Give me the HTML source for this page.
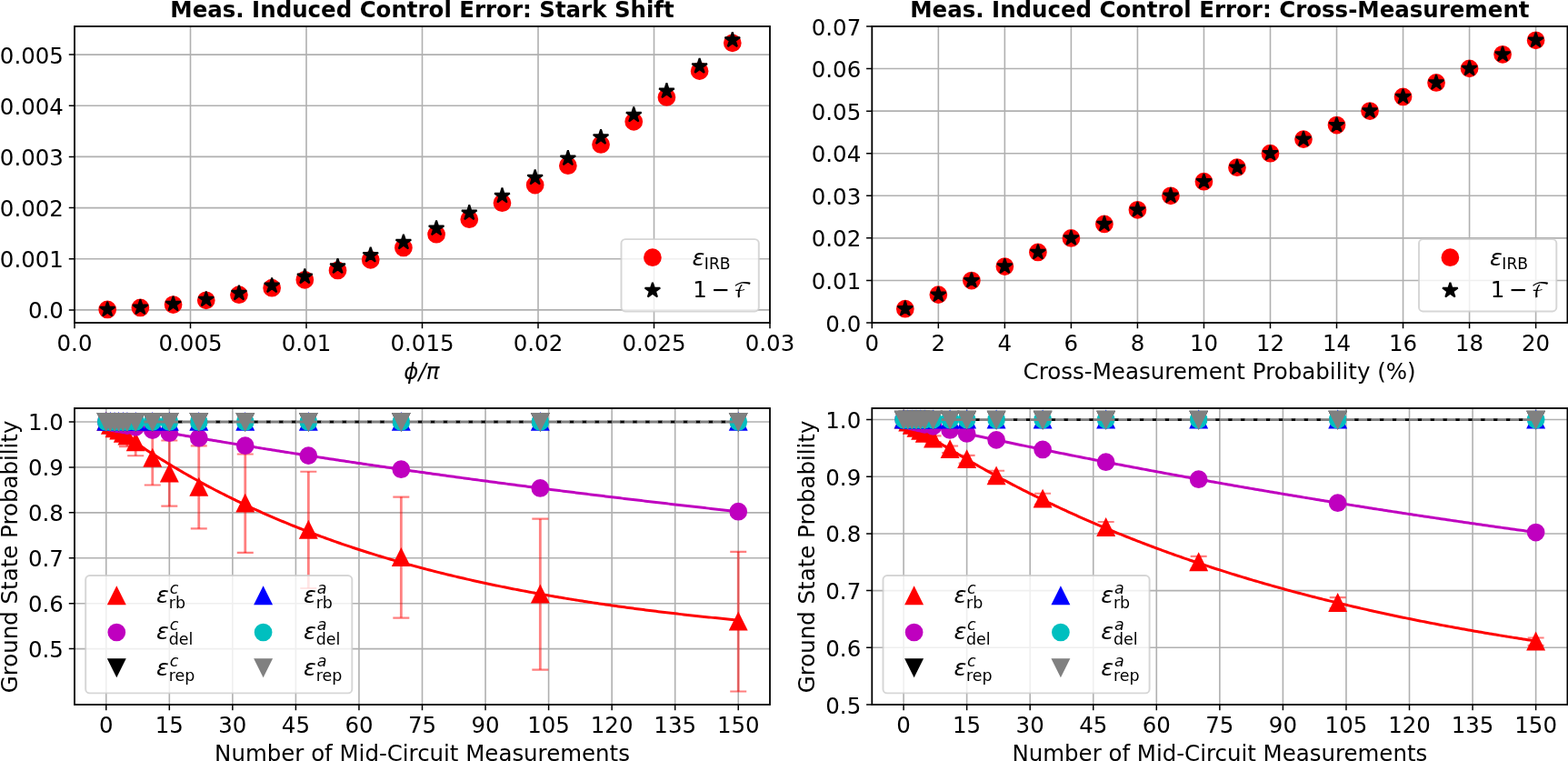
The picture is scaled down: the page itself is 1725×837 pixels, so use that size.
<!DOCTYPE html>
<html lang="en"><head><meta charset="utf-8"><title>Measurement Induced Control Error</title>
<style>html,body{margin:0;padding:0;background:#fff}body{width:1725px;height:837px;overflow:hidden}svg{display:block}</style>
</head><body>
<svg width="1725" height="837" viewBox="0 0 1725 837" font-family="'DejaVu Sans','Liberation Sans',sans-serif" font-size="24.47" fill="#000">
<rect width="1725" height="837" fill="#fff"/>
<defs>
<circle id="mo" r="8.9" stroke-width="1.94"/>
<polygon id="mu" points="0,-8.9 -8.9,8.9 8.9,8.9" stroke-width="1.94" stroke-linejoin="miter"/>
<polygon id="md" points="0,8.9 -8.9,-8.9 8.9,-8.9" stroke-width="1.94" stroke-linejoin="miter"/>
<polygon id="ms" points="0,-8.75 -1.96,-2.7 -8.32,-2.7 -3.18,1.03 -5.14,7.08 0,3.34 5.14,7.08 3.18,1.03 8.32,-2.7 1.96,-2.7" stroke-width="1.94" stroke-linejoin="bevel"/>
</defs>
<clipPath id="clipa1"><rect x="82" y="29" width="765" height="326"/></clipPath>
<g clip-path="url(#clipa1)">
<path d="M82 29V355M209.5 29V355M337 29V355M464.5 29V355M592 29V355M719.5 29V355M847 29V355M82 340.9H847M82 284.74H847M82 228.58H847M82 172.42H847M82 116.26H847M82 60.1H847" stroke="#b0b0b0" stroke-width="1.6" fill="none"/>
<use href="#mo" x="118.19" y="340.43" fill="#f00" stroke="#f00"/><use href="#mo" x="154.38" y="338.41" fill="#f00" stroke="#f00"/><use href="#mo" x="190.57" y="335.04" fill="#f00" stroke="#f00"/><use href="#mo" x="226.76" y="330.3" fill="#f00" stroke="#f00"/><use href="#mo" x="262.95" y="324.19" fill="#f00" stroke="#f00"/><use href="#mo" x="299.14" y="316.69" fill="#f00" stroke="#f00"/><use href="#mo" x="335.33" y="307.78" fill="#f00" stroke="#f00"/><use href="#mo" x="371.52" y="297.43" fill="#f00" stroke="#f00"/><use href="#mo" x="407.71" y="285.81" fill="#f00" stroke="#f00"/><use href="#mo" x="443.9" y="272.5" fill="#f00" stroke="#f00"/><use href="#mo" x="480.09" y="257.66" fill="#f00" stroke="#f00"/><use href="#mo" x="516.28" y="241.25" fill="#f00" stroke="#f00"/><use href="#mo" x="552.47" y="223.23" fill="#f00" stroke="#f00"/><use href="#mo" x="588.66" y="203.54" fill="#f00" stroke="#f00"/><use href="#mo" x="624.85" y="182.15" fill="#f00" stroke="#f00"/><use href="#mo" x="661.04" y="158.99" fill="#f00" stroke="#f00"/><use href="#mo" x="697.23" y="133.81" fill="#f00" stroke="#f00"/><use href="#mo" x="733.42" y="106.95" fill="#f00" stroke="#f00"/><use href="#mo" x="769.61" y="78.14" fill="#f00" stroke="#f00"/><use href="#mo" x="805.8" y="47.32" fill="#f00" stroke="#f00"/>
<use href="#ms" x="118.19" y="340.43" fill="#000" stroke="#000"/><use href="#ms" x="154.38" y="338.11" fill="#000" stroke="#000"/><use href="#ms" x="190.57" y="334.44" fill="#000" stroke="#000"/><use href="#ms" x="226.76" y="329.3" fill="#000" stroke="#000"/><use href="#ms" x="262.95" y="322.49" fill="#000" stroke="#000"/><use href="#ms" x="299.14" y="314.19" fill="#000" stroke="#000"/><use href="#ms" x="335.33" y="304.28" fill="#000" stroke="#000"/><use href="#ms" x="371.52" y="293.03" fill="#000" stroke="#000"/><use href="#ms" x="407.71" y="280.61" fill="#000" stroke="#000"/><use href="#ms" x="443.9" y="266.5" fill="#000" stroke="#000"/><use href="#ms" x="480.09" y="251.26" fill="#000" stroke="#000"/><use href="#ms" x="516.28" y="234.15" fill="#000" stroke="#000"/><use href="#ms" x="552.47" y="215.38" fill="#000" stroke="#000"/><use href="#ms" x="588.66" y="195.39" fill="#000" stroke="#000"/><use href="#ms" x="624.85" y="174.15" fill="#000" stroke="#000"/><use href="#ms" x="661.04" y="150.99" fill="#000" stroke="#000"/><use href="#ms" x="697.23" y="126.41" fill="#000" stroke="#000"/><use href="#ms" x="733.42" y="100.15" fill="#000" stroke="#000"/><use href="#ms" x="769.61" y="72.84" fill="#000" stroke="#000"/><use href="#ms" x="805.8" y="44.02" fill="#000" stroke="#000"/>
</g>
<path d="M82 355v6.2M209.5 355v6.2M337 355v6.2M464.5 355v6.2M592 355v6.2M719.5 355v6.2M847 355v6.2M82 340.9h-6.2M82 284.74h-6.2M82 228.58h-6.2M82 172.42h-6.2M82 116.26h-6.2M82 60.1h-6.2" stroke="#000" stroke-width="1.5" fill="none"/>
<rect x="82" y="29" width="765" height="326" fill="none" stroke="#000" stroke-width="1.8" stroke-linejoin="miter"/>
<text transform="translate(82 385.8) scale(1 1.035)" text-anchor="middle">0.0</text>
<text transform="translate(209.5 385.8) scale(1 1.035)" text-anchor="middle">0.005</text>
<text transform="translate(337 385.8) scale(1 1.035)" text-anchor="middle">0.01</text>
<text transform="translate(464.5 385.8) scale(1 1.035)" text-anchor="middle">0.015</text>
<text transform="translate(592 385.8) scale(1 1.035)" text-anchor="middle">0.02</text>
<text transform="translate(719.5 385.8) scale(1 1.035)" text-anchor="middle">0.025</text>
<text transform="translate(847 385.8) scale(1 1.035)" text-anchor="middle">0.03</text>
<text transform="translate(69.9 350.4) scale(1 1.035)" text-anchor="end">0.0</text>
<text transform="translate(69.9 294.24) scale(1 1.035)" text-anchor="end">0.001</text>
<text transform="translate(69.9 238.08) scale(1 1.035)" text-anchor="end">0.002</text>
<text transform="translate(69.9 181.92) scale(1 1.035)" text-anchor="end">0.003</text>
<text transform="translate(69.9 125.76) scale(1 1.035)" text-anchor="end">0.004</text>
<text transform="translate(69.9 69.6) scale(1 1.035)" text-anchor="end">0.005</text>
<rect x="683.5" y="263.1" width="151.3" height="79.4" rx="4.5" ry="4.5" fill="#fff" fill-opacity="0.8" stroke="#ccc" stroke-opacity="0.8" stroke-width="1.94"/>
<use href="#mo" x="717.9" y="283.2" fill="#f00" stroke="#f00"/>
<use href="#ms" x="717.9" y="319.5" fill="#000" stroke="#000"/>
<text transform="translate(761.6 291.5) scale(1 1.0)" font-size="25.5" font-style="italic">ε</text>
<text transform="translate(774.83 296) scale(1 1.0)" font-size="17.13">IRB</text>
<text transform="translate(762.2 326.7) scale(1 1.035)">1</text>
<text transform="translate(782.2 326.7) scale(1 1.035)">−</text>
<text transform="translate(806.8 326.7) scale(1 1.0)" font-size="22.3" font-family="'DejaVu Math TeX Gyre','DejaVu Sans',sans-serif">ℱ</text>
<text transform="translate(464.5 18.7) scale(1 1.035)" text-anchor="middle" font-weight="bold">Meas. Induced Control Error: Stark Shift</text>
<text transform="translate(463.9 416.7) scale(1 1.035)" text-anchor="middle" font-style="italic">ϕ/π</text>
<clipPath id="clipa2"><rect x="959.3" y="29" width="765.1" height="326"/></clipPath>
<g clip-path="url(#clipa2)">
<path d="M959.3 29V355M1032.33 29V355M1105.36 29V355M1178.39 29V355M1251.42 29V355M1324.45 29V355M1397.48 29V355M1470.51 29V355M1543.54 29V355M1616.57 29V355M1689.6 29V355M959.3 355H1724.4M959.3 308.43H1724.4M959.3 261.86H1724.4M959.3 215.29H1724.4M959.3 168.71H1724.4M959.3 122.14H1724.4M959.3 75.57H1724.4M959.3 29H1724.4" stroke="#b0b0b0" stroke-width="1.6" fill="none"/>
<use href="#mo" x="995.81" y="339.65" fill="#f00" stroke="#f00"/><use href="#mo" x="1032.33" y="324.11" fill="#f00" stroke="#f00"/><use href="#mo" x="1068.85" y="308.56" fill="#f00" stroke="#f00"/><use href="#mo" x="1105.36" y="293.02" fill="#f00" stroke="#f00"/><use href="#mo" x="1141.88" y="277.47" fill="#f00" stroke="#f00"/><use href="#mo" x="1178.39" y="261.93" fill="#f00" stroke="#f00"/><use href="#mo" x="1214.9" y="246.38" fill="#f00" stroke="#f00"/><use href="#mo" x="1251.42" y="230.84" fill="#f00" stroke="#f00"/><use href="#mo" x="1287.93" y="215.29" fill="#f00" stroke="#f00"/><use href="#mo" x="1324.45" y="199.74" fill="#f00" stroke="#f00"/><use href="#mo" x="1360.96" y="184.2" fill="#f00" stroke="#f00"/><use href="#mo" x="1397.48" y="168.65" fill="#f00" stroke="#f00"/><use href="#mo" x="1433.99" y="153.11" fill="#f00" stroke="#f00"/><use href="#mo" x="1470.51" y="137.56" fill="#f00" stroke="#f00"/><use href="#mo" x="1507.03" y="122.02" fill="#f00" stroke="#f00"/><use href="#mo" x="1543.54" y="106.47" fill="#f00" stroke="#f00"/><use href="#mo" x="1580.05" y="90.93" fill="#f00" stroke="#f00"/><use href="#mo" x="1616.57" y="75.38" fill="#f00" stroke="#f00"/><use href="#mo" x="1653.09" y="59.83" fill="#f00" stroke="#f00"/><use href="#mo" x="1689.6" y="44.29" fill="#f00" stroke="#f00"/>
<use href="#ms" x="995.81" y="339.65" fill="#000" stroke="#000"/><use href="#ms" x="1032.33" y="324.11" fill="#000" stroke="#000"/><use href="#ms" x="1068.85" y="308.56" fill="#000" stroke="#000"/><use href="#ms" x="1105.36" y="293.02" fill="#000" stroke="#000"/><use href="#ms" x="1141.88" y="277.47" fill="#000" stroke="#000"/><use href="#ms" x="1178.39" y="261.93" fill="#000" stroke="#000"/><use href="#ms" x="1214.9" y="246.38" fill="#000" stroke="#000"/><use href="#ms" x="1251.42" y="230.84" fill="#000" stroke="#000"/><use href="#ms" x="1287.93" y="215.29" fill="#000" stroke="#000"/><use href="#ms" x="1324.45" y="199.74" fill="#000" stroke="#000"/><use href="#ms" x="1360.96" y="184.2" fill="#000" stroke="#000"/><use href="#ms" x="1397.48" y="168.65" fill="#000" stroke="#000"/><use href="#ms" x="1433.99" y="153.11" fill="#000" stroke="#000"/><use href="#ms" x="1470.51" y="137.56" fill="#000" stroke="#000"/><use href="#ms" x="1507.03" y="122.02" fill="#000" stroke="#000"/><use href="#ms" x="1543.54" y="106.47" fill="#000" stroke="#000"/><use href="#ms" x="1580.05" y="90.93" fill="#000" stroke="#000"/><use href="#ms" x="1616.57" y="75.38" fill="#000" stroke="#000"/><use href="#ms" x="1653.09" y="59.83" fill="#000" stroke="#000"/><use href="#ms" x="1689.6" y="44.29" fill="#000" stroke="#000"/>
</g>
<path d="M959.3 355v6.2M1032.33 355v6.2M1105.36 355v6.2M1178.39 355v6.2M1251.42 355v6.2M1324.45 355v6.2M1397.48 355v6.2M1470.51 355v6.2M1543.54 355v6.2M1616.57 355v6.2M1689.6 355v6.2M959.3 355h-6.2M959.3 308.43h-6.2M959.3 261.86h-6.2M959.3 215.29h-6.2M959.3 168.71h-6.2M959.3 122.14h-6.2M959.3 75.57h-6.2M959.3 29h-6.2" stroke="#000" stroke-width="1.5" fill="none"/>
<rect x="959.3" y="29" width="765.1" height="326" fill="none" stroke="#000" stroke-width="1.8" stroke-linejoin="miter"/>
<text transform="translate(959.3 385.8) scale(1 1.035)" text-anchor="middle">0</text>
<text transform="translate(1032.33 385.8) scale(1 1.035)" text-anchor="middle">2</text>
<text transform="translate(1105.36 385.8) scale(1 1.035)" text-anchor="middle">4</text>
<text transform="translate(1178.39 385.8) scale(1 1.035)" text-anchor="middle">6</text>
<text transform="translate(1251.42 385.8) scale(1 1.035)" text-anchor="middle">8</text>
<text transform="translate(1324.45 385.8) scale(1 1.035)" text-anchor="middle">10</text>
<text transform="translate(1397.48 385.8) scale(1 1.035)" text-anchor="middle">12</text>
<text transform="translate(1470.51 385.8) scale(1 1.035)" text-anchor="middle">14</text>
<text transform="translate(1543.54 385.8) scale(1 1.035)" text-anchor="middle">16</text>
<text transform="translate(1616.57 385.8) scale(1 1.035)" text-anchor="middle">18</text>
<text transform="translate(1689.6 385.8) scale(1 1.035)" text-anchor="middle">20</text>
<text transform="translate(947.2 364.5) scale(1 1.035)" text-anchor="end">0.0</text>
<text transform="translate(947.2 317.93) scale(1 1.035)" text-anchor="end">0.01</text>
<text transform="translate(947.2 271.36) scale(1 1.035)" text-anchor="end">0.02</text>
<text transform="translate(947.2 224.79) scale(1 1.035)" text-anchor="end">0.03</text>
<text transform="translate(947.2 178.21) scale(1 1.035)" text-anchor="end">0.04</text>
<text transform="translate(947.2 131.64) scale(1 1.035)" text-anchor="end">0.05</text>
<text transform="translate(947.2 85.07) scale(1 1.035)" text-anchor="end">0.06</text>
<text transform="translate(947.2 38.5) scale(1 1.035)" text-anchor="end">0.07</text>
<rect x="1561" y="263.1" width="151.3" height="79.4" rx="4.5" ry="4.5" fill="#fff" fill-opacity="0.8" stroke="#ccc" stroke-opacity="0.8" stroke-width="1.94"/>
<use href="#mo" x="1595.4" y="283.2" fill="#f00" stroke="#f00"/>
<use href="#ms" x="1595.4" y="319.5" fill="#000" stroke="#000"/>
<text transform="translate(1639.1 291.5) scale(1 1.0)" font-size="25.5" font-style="italic">ε</text>
<text transform="translate(1652.33 296) scale(1 1.0)" font-size="17.13">IRB</text>
<text transform="translate(1639.7 326.7) scale(1 1.035)">1</text>
<text transform="translate(1659.7 326.7) scale(1 1.035)">−</text>
<text transform="translate(1684.3 326.7) scale(1 1.0)" font-size="22.3" font-family="'DejaVu Math TeX Gyre','DejaVu Sans',sans-serif">ℱ</text>
<text transform="translate(1341.9 18.7) scale(1 1.035)" text-anchor="middle" font-weight="bold">Meas. Induced Control Error: Cross-Measurement</text>
<text transform="translate(1341.6 416.7) scale(1 1.035)" text-anchor="middle" font-size="24.53">Cross-Measurement Probability (%)</text>
<clipPath id="clipa3"><rect x="82" y="449" width="765" height="326"/></clipPath>
<g clip-path="url(#clipa3)">
<path d="M116.77 449V775M186.32 449V775M255.86 449V775M325.41 449V775M394.95 449V775M464.5 449V775M534.05 449V775M603.59 449V775M673.14 449V775M742.68 449V775M812.23 449V775M82 713.62H847M82 663.69H847M82 613.76H847M82 563.84H847M82 513.91H847M82 463.98H847" stroke="#b0b0b0" stroke-width="1.6" fill="none"/>
<path d="M116.77 463.98L119.09 465.7L121.41 467.4L123.72 469.09L126.04 470.77L128.36 472.44L130.68 474.1L133 475.75L135.32 477.38L137.63 479L139.95 480.62L142.27 482.22L144.59 483.81L146.91 485.39L149.22 486.96L151.54 488.51L153.86 490.06L156.18 491.6L158.5 493.12L160.82 494.64L163.13 496.14L165.45 497.64L167.77 499.12L170.09 500.6L172.41 502.06L174.72 503.52L177.04 504.96L179.36 506.39L181.68 507.82L184 509.23L186.32 510.64L188.63 512.03L190.95 513.42L193.27 514.79L195.59 516.16L197.91 517.52L200.23 518.86L202.54 520.2L204.86 521.53L207.18 522.85L209.5 524.16L211.82 525.47L214.13 526.76L216.45 528.04L218.77 529.32L221.09 530.59L223.41 531.84L225.73 533.09L228.04 534.33L230.36 535.57L232.68 536.79L235 538L237.32 539.21L239.63 540.41L241.95 541.6L244.27 542.78L246.59 543.96L248.91 545.12L251.23 546.28L253.54 547.43L255.86 548.57L258.18 549.71L260.5 550.83L262.82 551.95L265.13 553.06L267.45 554.17L269.77 555.26L272.09 556.35L274.41 557.43L276.73 558.51L279.04 559.57L281.36 560.63L283.68 561.68L286 562.73L288.32 563.76L290.63 564.79L292.95 565.82L295.27 566.83L297.59 567.84L299.91 568.84L302.23 569.84L304.54 570.83L306.86 571.81L309.18 572.78L311.5 573.75L313.82 574.71L316.14 575.67L318.45 576.61L320.77 577.56L323.09 578.49L325.41 579.42L327.73 580.34L330.04 581.26L332.36 582.17L334.68 583.07L337 583.97L339.32 584.86L341.64 585.74L343.95 586.62L346.27 587.5L348.59 588.36L350.91 589.22L353.23 590.08L355.54 590.93L357.86 591.77L360.18 592.61L362.5 593.44L364.82 594.27L367.14 595.09L369.45 595.9L371.77 596.71L374.09 597.51L376.41 598.31L378.73 599.1L381.04 599.89L383.36 600.67L385.68 601.45L388 602.22L390.32 602.99L392.64 603.75L394.95 604.5L397.27 605.25L399.59 606L401.91 606.74L404.23 607.47L406.54 608.2L408.86 608.92L411.18 609.64L413.5 610.36L415.82 611.07L418.14 611.77L420.45 612.47L422.77 613.17L425.09 613.86L427.41 614.54L429.73 615.23L432.05 615.9L434.36 616.57L436.68 617.24L439 617.9L441.32 618.56L443.64 619.21L445.95 619.86L448.27 620.51L450.59 621.15L452.91 621.78L455.23 622.41L457.55 623.04L459.86 623.66L462.18 624.28L464.5 624.9L466.82 625.51L469.14 626.11L471.45 626.71L473.77 627.31L476.09 627.9L478.41 628.49L480.73 629.08L483.05 629.66L485.36 630.24L487.68 630.81L490 631.38L492.32 631.94L494.64 632.5L496.95 633.06L499.27 633.62L501.59 634.16L503.91 634.71L506.23 635.25L508.55 635.79L510.86 636.33L513.18 636.86L515.5 637.39L517.82 637.91L520.14 638.43L522.46 638.95L524.77 639.46L527.09 639.97L529.41 640.48L531.73 640.98L534.05 641.48L536.36 641.97L538.68 642.47L541 642.95L543.32 643.44L545.64 643.92L547.96 644.4L550.27 644.88L552.59 645.35L554.91 645.82L557.23 646.29L559.55 646.75L561.86 647.21L564.18 647.66L566.5 648.12L568.82 648.57L571.14 649.01L573.46 649.46L575.77 649.9L578.09 650.34L580.41 650.77L582.73 651.2L585.05 651.63L587.36 652.06L589.68 652.48L592 652.9L594.32 653.32L596.64 653.73L598.96 654.15L601.27 654.55L603.59 654.96L605.91 655.36L608.23 655.76L610.55 656.16L612.86 656.56L615.18 656.95L617.5 657.34L619.82 657.73L622.14 658.11L624.46 658.49L626.77 658.87L629.09 659.25L631.41 659.62L633.73 659.99L636.05 660.36L638.37 660.73L640.68 661.09L643 661.45L645.32 661.81L647.64 662.16L649.96 662.52L652.27 662.87L654.59 663.22L656.91 663.56L659.23 663.91L661.55 664.25L663.87 664.59L666.18 664.93L668.5 665.26L670.82 665.59L673.14 665.92L675.46 666.25L677.77 666.58L680.09 666.9L682.41 667.22L684.73 667.54L687.05 667.86L689.37 668.17L691.68 668.48L694 668.79L696.32 669.1L698.64 669.41L700.96 669.71L703.27 670.01L705.59 670.31L707.91 670.61L710.23 670.91L712.55 671.2L714.87 671.49L717.18 671.78L719.5 672.07L721.82 672.35L724.14 672.64L726.46 672.92L728.77 673.2L731.09 673.48L733.41 673.75L735.73 674.03L738.05 674.3L740.37 674.57L742.68 674.84L745 675.1L747.32 675.37L749.64 675.63L751.96 675.89L754.27 676.15L756.59 676.41L758.91 676.67L761.23 676.92L763.55 677.17L765.87 677.42L768.18 677.67L770.5 677.92L772.82 678.16L775.14 678.41L777.46 678.65L779.78 678.89L782.09 679.13L784.41 679.37L786.73 679.6L789.05 679.83L791.37 680.07L793.68 680.3L796 680.53L798.32 680.75L800.64 680.98L802.96 681.2L805.28 681.43L807.59 681.65L809.91 681.87L812.23 682.09" stroke="#f00" stroke-width="3.0" fill="none" stroke-linecap="square"/>
<path d="M139.95 491.09V468.32M149.22 501.28V471.52M167.77 533.48V474.07M186.32 556.65V484.55M218.77 581.41V490.34M269.77 607.92V499.48M339.32 647.07V518.75M441.32 679.62V546.61M594.32 736.59V570.63M812.23 760.45V606.87" stroke="#f00" stroke-opacity="0.5" stroke-width="2.8" fill="none"/>
<path d="M130.95 491.09h18M130.95 468.32h18M140.22 501.28h18M140.22 471.52h18M158.77 533.48h18M158.77 474.07h18M177.32 556.65h18M177.32 484.55h18M209.77 581.41h18M209.77 490.34h18M260.77 607.92h18M260.77 499.48h18M330.32 647.07h18M330.32 518.75h18M432.32 679.62h18M432.32 546.61h18M585.32 736.59h18M585.32 570.63h18M803.23 760.45h18M803.23 606.87h18" stroke="#f00" stroke-opacity="0.5" stroke-width="2.1" fill="none"/>
<use href="#mu" x="116.77" y="463.98" fill="#f00" stroke="#f00"/><use href="#mu" x="121.41" y="467.77" fill="#f00" stroke="#f00"/><use href="#mu" x="126.04" y="471.32" fill="#f00" stroke="#f00"/><use href="#mu" x="130.68" y="473.72" fill="#f00" stroke="#f00"/><use href="#mu" x="135.32" y="476.81" fill="#f00" stroke="#f00"/><use href="#mu" x="139.95" y="479.71" fill="#f00" stroke="#f00"/><use href="#mu" x="149.22" y="486.4" fill="#f00" stroke="#f00"/><use href="#mu" x="167.77" y="503.77" fill="#f00" stroke="#f00"/><use href="#mu" x="186.32" y="520.6" fill="#f00" stroke="#f00"/><use href="#mu" x="218.77" y="535.88" fill="#f00" stroke="#f00"/><use href="#mu" x="269.77" y="553.7" fill="#f00" stroke="#f00"/><use href="#mu" x="339.32" y="582.91" fill="#f00" stroke="#f00"/><use href="#mu" x="441.32" y="613.11" fill="#f00" stroke="#f00"/><use href="#mu" x="594.32" y="653.61" fill="#f00" stroke="#f00"/><use href="#mu" x="812.23" y="683.66" fill="#f00" stroke="#f00"/>
<path d="M116.77 463.98L119.09 464.4L121.41 464.82L123.72 465.23L126.04 465.65L128.36 466.07L130.68 466.48L133 466.89L135.32 467.31L137.63 467.72L139.95 468.13L142.27 468.55L144.59 468.96L146.91 469.37L149.22 469.78L151.54 470.18L153.86 470.59L156.18 471L158.5 471.41L160.82 471.81L163.13 472.22L165.45 472.62L167.77 473.03L170.09 473.43L172.41 473.83L174.72 474.23L177.04 474.64L179.36 475.04L181.68 475.44L184 475.84L186.32 476.23L188.63 476.63L190.95 477.03L193.27 477.43L195.59 477.82L197.91 478.22L200.23 478.61L202.54 479.01L204.86 479.4L207.18 479.79L209.5 480.18L211.82 480.58L214.13 480.97L216.45 481.36L218.77 481.75L221.09 482.13L223.41 482.52L225.73 482.91L228.04 483.3L230.36 483.68L232.68 484.07L235 484.45L237.32 484.84L239.63 485.22L241.95 485.6L244.27 485.99L246.59 486.37L248.91 486.75L251.23 487.13L253.54 487.51L255.86 487.89L258.18 488.27L260.5 488.64L262.82 489.02L265.13 489.4L267.45 489.77L269.77 490.15L272.09 490.52L274.41 490.9L276.73 491.27L279.04 491.64L281.36 492.02L283.68 492.39L286 492.76L288.32 493.13L290.63 493.5L292.95 493.87L295.27 494.24L297.59 494.6L299.91 494.97L302.23 495.34L304.54 495.7L306.86 496.07L309.18 496.43L311.5 496.8L313.82 497.16L316.14 497.52L318.45 497.89L320.77 498.25L323.09 498.61L325.41 498.97L327.73 499.33L330.04 499.69L332.36 500.05L334.68 500.4L337 500.76L339.32 501.12L341.64 501.48L343.95 501.83L346.27 502.19L348.59 502.54L350.91 502.89L353.23 503.25L355.54 503.6L357.86 503.95L360.18 504.3L362.5 504.65L364.82 505.01L367.14 505.35L369.45 505.7L371.77 506.05L374.09 506.4L376.41 506.75L378.73 507.09L381.04 507.44L383.36 507.79L385.68 508.13L388 508.48L390.32 508.82L392.64 509.16L394.95 509.51L397.27 509.85L399.59 510.19L401.91 510.53L404.23 510.87L406.54 511.21L408.86 511.55L411.18 511.89L413.5 512.23L415.82 512.57L418.14 512.9L420.45 513.24L422.77 513.57L425.09 513.91L427.41 514.24L429.73 514.58L432.05 514.91L434.36 515.25L436.68 515.58L439 515.91L441.32 516.24L443.64 516.57L445.95 516.9L448.27 517.23L450.59 517.56L452.91 517.89L455.23 518.22L457.55 518.55L459.86 518.87L462.18 519.2L464.5 519.53L466.82 519.85L469.14 520.18L471.45 520.5L473.77 520.82L476.09 521.15L478.41 521.47L480.73 521.79L483.05 522.11L485.36 522.44L487.68 522.76L490 523.08L492.32 523.39L494.64 523.71L496.95 524.03L499.27 524.35L501.59 524.67L503.91 524.98L506.23 525.3L508.55 525.62L510.86 525.93L513.18 526.25L515.5 526.56L517.82 526.87L520.14 527.19L522.46 527.5L524.77 527.81L527.09 528.12L529.41 528.43L531.73 528.74L534.05 529.05L536.36 529.36L538.68 529.67L541 529.98L543.32 530.29L545.64 530.6L547.96 530.9L550.27 531.21L552.59 531.51L554.91 531.82L557.23 532.13L559.55 532.43L561.86 532.73L564.18 533.04L566.5 533.34L568.82 533.64L571.14 533.94L573.46 534.24L575.77 534.54L578.09 534.85L580.41 535.14L582.73 535.44L585.05 535.74L587.36 536.04L589.68 536.34L592 536.64L594.32 536.93L596.64 537.23L598.96 537.52L601.27 537.82L603.59 538.11L605.91 538.41L608.23 538.7L610.55 539L612.86 539.29L615.18 539.58L617.5 539.87L619.82 540.16L622.14 540.45L624.46 540.74L626.77 541.03L629.09 541.32L631.41 541.61L633.73 541.9L636.05 542.19L638.37 542.48L640.68 542.76L643 543.05L645.32 543.34L647.64 543.62L649.96 543.91L652.27 544.19L654.59 544.47L656.91 544.76L659.23 545.04L661.55 545.32L663.87 545.61L666.18 545.89L668.5 546.17L670.82 546.45L673.14 546.73L675.46 547.01L677.77 547.29L680.09 547.57L682.41 547.85L684.73 548.12L687.05 548.4L689.37 548.68L691.68 548.96L694 549.23L696.32 549.51L698.64 549.78L700.96 550.06L703.27 550.33L705.59 550.6L707.91 550.88L710.23 551.15L712.55 551.42L714.87 551.69L717.18 551.97L719.5 552.24L721.82 552.51L724.14 552.78L726.46 553.05L728.77 553.32L731.09 553.59L733.41 553.85L735.73 554.12L738.05 554.39L740.37 554.66L742.68 554.92L745 555.19L747.32 555.45L749.64 555.72L751.96 555.98L754.27 556.25L756.59 556.51L758.91 556.78L761.23 557.04L763.55 557.3L765.87 557.56L768.18 557.82L770.5 558.09L772.82 558.35L775.14 558.61L777.46 558.87L779.78 559.13L782.09 559.39L784.41 559.64L786.73 559.9L789.05 560.16L791.37 560.42L793.68 560.67L796 560.93L798.32 561.19L800.64 561.44L802.96 561.7L805.28 561.95L807.59 562.21L809.91 562.46L812.23 562.71" stroke="#bf00bf" stroke-width="3.0" fill="none" stroke-linecap="square"/>
<use href="#mo" x="116.77" y="463.98" fill="#bf00bf" stroke="#bf00bf"/><use href="#mo" x="121.41" y="464.82" fill="#bf00bf" stroke="#bf00bf"/><use href="#mo" x="126.04" y="465.65" fill="#bf00bf" stroke="#bf00bf"/><use href="#mo" x="130.68" y="466.48" fill="#bf00bf" stroke="#bf00bf"/><use href="#mo" x="135.32" y="467.31" fill="#bf00bf" stroke="#bf00bf"/><use href="#mo" x="139.95" y="468.13" fill="#bf00bf" stroke="#bf00bf"/><use href="#mo" x="149.22" y="469.78" fill="#bf00bf" stroke="#bf00bf"/><use href="#mo" x="167.77" y="473.03" fill="#bf00bf" stroke="#bf00bf"/><use href="#mo" x="186.32" y="476.23" fill="#bf00bf" stroke="#bf00bf"/><use href="#mo" x="218.77" y="481.75" fill="#bf00bf" stroke="#bf00bf"/><use href="#mo" x="269.77" y="490.15" fill="#bf00bf" stroke="#bf00bf"/><use href="#mo" x="339.32" y="501.12" fill="#bf00bf" stroke="#bf00bf"/><use href="#mo" x="441.32" y="516.24" fill="#bf00bf" stroke="#bf00bf"/><use href="#mo" x="594.32" y="536.93" fill="#bf00bf" stroke="#bf00bf"/><use href="#mo" x="812.23" y="562.71" fill="#bf00bf" stroke="#bf00bf"/>
<path d="M116.77 463.98H812.23" stroke="#000" stroke-width="2.8" stroke-dasharray="5.2 8.7" stroke-dashoffset="4.7" fill="none"/>
<use href="#md" x="116.77" y="463.98" fill="#000" stroke="#000"/><use href="#md" x="121.41" y="463.98" fill="#000" stroke="#000"/><use href="#md" x="126.04" y="463.98" fill="#000" stroke="#000"/><use href="#md" x="130.68" y="463.98" fill="#000" stroke="#000"/><use href="#md" x="135.32" y="463.98" fill="#000" stroke="#000"/><use href="#md" x="139.95" y="463.98" fill="#000" stroke="#000"/><use href="#md" x="149.22" y="463.98" fill="#000" stroke="#000"/><use href="#md" x="167.77" y="463.98" fill="#000" stroke="#000"/><use href="#md" x="186.32" y="463.98" fill="#000" stroke="#000"/><use href="#md" x="218.77" y="463.98" fill="#000" stroke="#000"/><use href="#md" x="269.77" y="463.98" fill="#000" stroke="#000"/><use href="#md" x="339.32" y="463.98" fill="#000" stroke="#000"/><use href="#md" x="441.32" y="463.98" fill="#000" stroke="#000"/><use href="#md" x="594.32" y="463.98" fill="#000" stroke="#000"/><use href="#md" x="812.23" y="463.98" fill="#000" stroke="#000"/>
<use href="#mu" x="116.77" y="463.98" fill="#00f" stroke="#00f"/><use href="#mu" x="121.41" y="463.98" fill="#00f" stroke="#00f"/><use href="#mu" x="126.04" y="463.98" fill="#00f" stroke="#00f"/><use href="#mu" x="130.68" y="463.98" fill="#00f" stroke="#00f"/><use href="#mu" x="135.32" y="463.98" fill="#00f" stroke="#00f"/><use href="#mu" x="139.95" y="463.98" fill="#00f" stroke="#00f"/><use href="#mu" x="149.22" y="463.98" fill="#00f" stroke="#00f"/><use href="#mu" x="167.77" y="463.98" fill="#00f" stroke="#00f"/><use href="#mu" x="186.32" y="463.98" fill="#00f" stroke="#00f"/><use href="#mu" x="218.77" y="463.98" fill="#00f" stroke="#00f"/><use href="#mu" x="269.77" y="463.98" fill="#00f" stroke="#00f"/><use href="#mu" x="339.32" y="463.98" fill="#00f" stroke="#00f"/><use href="#mu" x="441.32" y="463.98" fill="#00f" stroke="#00f"/><use href="#mu" x="594.32" y="463.98" fill="#00f" stroke="#00f"/><use href="#mu" x="812.23" y="463.98" fill="#00f" stroke="#00f"/>
<use href="#mo" x="116.77" y="463.98" fill="#00bfbf" stroke="#00bfbf"/><use href="#mo" x="121.41" y="463.98" fill="#00bfbf" stroke="#00bfbf"/><use href="#mo" x="126.04" y="463.98" fill="#00bfbf" stroke="#00bfbf"/><use href="#mo" x="130.68" y="463.98" fill="#00bfbf" stroke="#00bfbf"/><use href="#mo" x="135.32" y="463.98" fill="#00bfbf" stroke="#00bfbf"/><use href="#mo" x="139.95" y="463.98" fill="#00bfbf" stroke="#00bfbf"/><use href="#mo" x="149.22" y="463.98" fill="#00bfbf" stroke="#00bfbf"/><use href="#mo" x="167.77" y="463.98" fill="#00bfbf" stroke="#00bfbf"/><use href="#mo" x="186.32" y="463.98" fill="#00bfbf" stroke="#00bfbf"/><use href="#mo" x="218.77" y="463.98" fill="#00bfbf" stroke="#00bfbf"/><use href="#mo" x="269.77" y="463.98" fill="#00bfbf" stroke="#00bfbf"/><use href="#mo" x="339.32" y="463.98" fill="#00bfbf" stroke="#00bfbf"/><use href="#mo" x="441.32" y="463.98" fill="#00bfbf" stroke="#00bfbf"/><use href="#mo" x="594.32" y="463.98" fill="#00bfbf" stroke="#00bfbf"/><use href="#mo" x="812.23" y="463.98" fill="#00bfbf" stroke="#00bfbf"/>
<path d="M116.77 463.98H812.23" stroke="#808080" stroke-width="2.8" stroke-dasharray="9.7 4.2" fill="none"/>
<use href="#md" x="116.77" y="463.98" fill="#808080" stroke="#808080"/><use href="#md" x="121.41" y="463.98" fill="#808080" stroke="#808080"/><use href="#md" x="126.04" y="463.98" fill="#808080" stroke="#808080"/><use href="#md" x="130.68" y="463.98" fill="#808080" stroke="#808080"/><use href="#md" x="135.32" y="463.98" fill="#808080" stroke="#808080"/><use href="#md" x="139.95" y="463.98" fill="#808080" stroke="#808080"/><use href="#md" x="149.22" y="463.98" fill="#808080" stroke="#808080"/><use href="#md" x="167.77" y="463.98" fill="#808080" stroke="#808080"/><use href="#md" x="186.32" y="463.98" fill="#808080" stroke="#808080"/><use href="#md" x="218.77" y="463.98" fill="#808080" stroke="#808080"/><use href="#md" x="269.77" y="463.98" fill="#808080" stroke="#808080"/><use href="#md" x="339.32" y="463.98" fill="#808080" stroke="#808080"/><use href="#md" x="441.32" y="463.98" fill="#808080" stroke="#808080"/><use href="#md" x="594.32" y="463.98" fill="#808080" stroke="#808080"/><use href="#md" x="812.23" y="463.98" fill="#808080" stroke="#808080"/>
</g>
<path d="M116.77 775v6.2M186.32 775v6.2M255.86 775v6.2M325.41 775v6.2M394.95 775v6.2M464.5 775v6.2M534.05 775v6.2M603.59 775v6.2M673.14 775v6.2M742.68 775v6.2M812.23 775v6.2M82 713.62h-6.2M82 663.69h-6.2M82 613.76h-6.2M82 563.84h-6.2M82 513.91h-6.2M82 463.98h-6.2" stroke="#000" stroke-width="1.5" fill="none"/>
<rect x="82" y="449" width="765" height="326" fill="none" stroke="#000" stroke-width="1.8" stroke-linejoin="miter"/>
<text transform="translate(116.77 806.2) scale(1 1.035)" text-anchor="middle">0</text>
<text transform="translate(186.32 806.2) scale(1 1.035)" text-anchor="middle">15</text>
<text transform="translate(255.86 806.2) scale(1 1.035)" text-anchor="middle">30</text>
<text transform="translate(325.41 806.2) scale(1 1.035)" text-anchor="middle">45</text>
<text transform="translate(394.95 806.2) scale(1 1.035)" text-anchor="middle">60</text>
<text transform="translate(464.5 806.2) scale(1 1.035)" text-anchor="middle">75</text>
<text transform="translate(534.05 806.2) scale(1 1.035)" text-anchor="middle">90</text>
<text transform="translate(603.59 806.2) scale(1 1.035)" text-anchor="middle">105</text>
<text transform="translate(673.14 806.2) scale(1 1.035)" text-anchor="middle">120</text>
<text transform="translate(742.68 806.2) scale(1 1.035)" text-anchor="middle">135</text>
<text transform="translate(812.23 806.2) scale(1 1.035)" text-anchor="middle">150</text>
<text transform="translate(69.9 723.12) scale(1 1.035)" text-anchor="end">0.5</text>
<text transform="translate(69.9 673.19) scale(1 1.035)" text-anchor="end">0.6</text>
<text transform="translate(69.9 623.26) scale(1 1.035)" text-anchor="end">0.7</text>
<text transform="translate(69.9 573.34) scale(1 1.035)" text-anchor="end">0.8</text>
<text transform="translate(69.9 523.41) scale(1 1.035)" text-anchor="end">0.9</text>
<text transform="translate(69.9 473.48) scale(1 1.035)" text-anchor="end">1.0</text>
<rect x="94.2" y="633" width="293.1" height="129.4" rx="4.5" ry="4.5" fill="#fff" fill-opacity="0.8" stroke="#ccc" stroke-opacity="0.8" stroke-width="1.94"/>
<use href="#mu" x="128.3" y="655.3" fill="#f00" stroke="#f00"/>
<use href="#mo" x="128.3" y="695.5" fill="#bf00bf" stroke="#bf00bf"/>
<use href="#md" x="128.3" y="734.1" fill="#000" stroke="#000"/>
<use href="#mu" x="289.6" y="655.3" fill="#00f" stroke="#00f"/>
<use href="#mo" x="289.6" y="695.5" fill="#00bfbf" stroke="#00bfbf"/>
<use href="#md" x="289.6" y="734.1" fill="#808080" stroke="#808080"/>
<text transform="translate(172.1 662.5) scale(1 1.0)" font-size="25.5" font-style="italic">ε</text><text transform="translate(186.73 652.9) scale(1 1.0)" font-size="17.47" font-style="italic">c</text><text transform="translate(185.73 668.6) scale(1 0.98)" font-size="17.47">rb</text>
<text transform="translate(172.1 702.7) scale(1 1.0)" font-size="25.5" font-style="italic">ε</text><text transform="translate(186.73 693.1) scale(1 1.0)" font-size="17.47" font-style="italic">c</text><text transform="translate(185.73 708.8) scale(1 0.98)" font-size="17.47">del</text>
<text transform="translate(172.1 742.9) scale(1 1.0)" font-size="25.5" font-style="italic">ε</text><text transform="translate(186.73 733.3) scale(1 1.0)" font-size="17.47" font-style="italic">c</text><text transform="translate(185.73 749) scale(1 0.98)" font-size="17.47">rep</text>
<text transform="translate(334 662.5) scale(1 1.0)" font-size="25.5" font-style="italic">ε</text><text transform="translate(348.63 652.9) scale(1 1.0)" font-size="17.47" font-style="italic">a</text><text transform="translate(347.63 668.6) scale(1 0.98)" font-size="17.47">rb</text>
<text transform="translate(334 702.7) scale(1 1.0)" font-size="25.5" font-style="italic">ε</text><text transform="translate(348.63 693.1) scale(1 1.0)" font-size="17.47" font-style="italic">a</text><text transform="translate(347.63 708.8) scale(1 0.98)" font-size="17.47">del</text>
<text transform="translate(334 742.9) scale(1 1.0)" font-size="25.5" font-style="italic">ε</text><text transform="translate(348.63 733.3) scale(1 1.0)" font-size="17.47" font-style="italic">a</text><text transform="translate(347.63 749) scale(1 0.98)" font-size="17.47">rep</text>
<text transform="translate(464.5 836.9) scale(1 1.035)" text-anchor="middle">Number of Mid-Circuit Measurements</text>
<text transform="translate(19.1 612.4) rotate(-90) scale(1 1.035)" text-anchor="middle">Ground State Probability</text>
<clipPath id="clipa4"><rect x="959.3" y="449" width="765.1" height="326"/></clipPath>
<g clip-path="url(#clipa4)">
<path d="M994.08 449V775M1063.63 449V775M1133.19 449V775M1202.74 449V775M1272.3 449V775M1341.85 449V775M1411.4 449V775M1480.96 449V775M1550.51 449V775M1620.07 449V775M1689.62 449V775M959.3 775H1724.4M959.3 712.31H1724.4M959.3 649.62H1724.4M959.3 586.94H1724.4M959.3 524.25H1724.4M959.3 461.56H1724.4" stroke="#b0b0b0" stroke-width="1.6" fill="none"/>
<path d="M994.08 461.56L996.4 463.12L998.72 464.68L1001.04 466.23L1003.35 467.77L1005.67 469.3L1007.99 470.82L1010.31 472.34L1012.63 473.85L1014.95 475.35L1017.26 476.85L1019.58 478.33L1021.9 479.81L1024.22 481.29L1026.54 482.75L1028.86 484.21L1031.18 485.66L1033.49 487.1L1035.81 488.54L1038.13 489.97L1040.45 491.39L1042.77 492.8L1045.09 494.21L1047.4 495.61L1049.72 497L1052.04 498.39L1054.36 499.77L1056.68 501.14L1059 502.51L1061.32 503.87L1063.63 505.22L1065.95 506.57L1068.27 507.9L1070.59 509.24L1072.91 510.56L1075.23 511.88L1077.54 513.19L1079.86 514.5L1082.18 515.8L1084.5 517.09L1086.82 518.38L1089.14 519.66L1091.46 520.93L1093.77 522.2L1096.09 523.46L1098.41 524.71L1100.73 525.96L1103.05 527.2L1105.37 528.44L1107.68 529.67L1110 530.89L1112.32 532.11L1114.64 533.32L1116.96 534.53L1119.28 535.73L1121.6 536.92L1123.91 538.11L1126.23 539.29L1128.55 540.46L1130.87 541.63L1133.19 542.8L1135.51 543.96L1137.82 545.11L1140.14 546.25L1142.46 547.4L1144.78 548.53L1147.1 549.66L1149.42 550.78L1151.74 551.9L1154.05 553.02L1156.37 554.12L1158.69 555.22L1161.01 556.32L1163.33 557.41L1165.65 558.5L1167.96 559.58L1170.28 560.65L1172.6 561.72L1174.92 562.78L1177.24 563.84L1179.56 564.89L1181.88 565.94L1184.19 566.99L1186.51 568.02L1188.83 569.06L1191.15 570.08L1193.47 571.1L1195.79 572.12L1198.11 573.13L1200.42 574.14L1202.74 575.14L1205.06 576.14L1207.38 577.13L1209.7 578.12L1212.02 579.1L1214.33 580.08L1216.65 581.05L1218.97 582.02L1221.29 582.98L1223.61 583.94L1225.93 584.89L1228.25 585.84L1230.56 586.78L1232.88 587.72L1235.2 588.65L1237.52 589.58L1239.84 590.51L1242.16 591.43L1244.47 592.34L1246.79 593.25L1249.11 594.16L1251.43 595.06L1253.75 595.96L1256.07 596.85L1258.39 597.74L1260.7 598.63L1263.02 599.51L1265.34 600.38L1267.66 601.25L1269.98 602.12L1272.3 602.98L1274.61 603.84L1276.93 604.69L1279.25 605.54L1281.57 606.39L1283.89 607.23L1286.21 608.06L1288.53 608.9L1290.84 609.73L1293.16 610.55L1295.48 611.37L1297.8 612.19L1300.12 613L1302.44 613.81L1304.75 614.61L1307.07 615.41L1309.39 616.21L1311.71 617L1314.03 617.79L1316.35 618.57L1318.67 619.35L1320.98 620.13L1323.3 620.9L1325.62 621.67L1327.94 622.43L1330.26 623.19L1332.58 623.95L1334.89 624.7L1337.21 625.45L1339.53 626.2L1341.85 626.94L1344.17 627.68L1346.49 628.41L1348.81 629.15L1351.12 629.87L1353.44 630.6L1355.76 631.32L1358.08 632.03L1360.4 632.75L1362.72 633.46L1365.03 634.16L1367.35 634.86L1369.67 635.56L1371.99 636.26L1374.31 636.95L1376.63 637.64L1378.95 638.32L1381.26 639.01L1383.58 639.68L1385.9 640.36L1388.22 641.03L1390.54 641.7L1392.86 642.36L1395.17 643.03L1397.49 643.68L1399.81 644.34L1402.13 644.99L1404.45 645.64L1406.77 646.28L1409.09 646.93L1411.4 647.56L1413.72 648.2L1416.04 648.83L1418.36 649.46L1420.68 650.09L1423 650.71L1425.31 651.33L1427.63 651.95L1429.95 652.56L1432.27 653.17L1434.59 653.78L1436.91 654.38L1439.23 654.99L1441.54 655.58L1443.86 656.18L1446.18 656.77L1448.5 657.36L1450.82 657.95L1453.14 658.53L1455.45 659.11L1457.77 659.69L1460.09 660.27L1462.41 660.84L1464.73 661.41L1467.05 661.98L1469.37 662.54L1471.68 663.1L1474 663.66L1476.32 664.21L1478.64 664.77L1480.96 665.32L1483.28 665.86L1485.59 666.41L1487.91 666.95L1490.23 667.49L1492.55 668.02L1494.87 668.56L1497.19 669.09L1499.51 669.62L1501.82 670.14L1504.14 670.66L1506.46 671.19L1508.78 671.7L1511.1 672.22L1513.42 672.73L1515.73 673.24L1518.05 673.75L1520.37 674.25L1522.69 674.76L1525.01 675.26L1527.33 675.75L1529.65 676.25L1531.96 676.74L1534.28 677.23L1536.6 677.72L1538.92 678.2L1541.24 678.69L1543.56 679.17L1545.88 679.64L1548.19 680.12L1550.51 680.59L1552.83 681.06L1555.15 681.53L1557.47 682L1559.79 682.46L1562.1 682.92L1564.42 683.38L1566.74 683.84L1569.06 684.3L1571.38 684.75L1573.7 685.2L1576.02 685.65L1578.33 686.09L1580.65 686.53L1582.97 686.98L1585.29 687.42L1587.61 687.85L1589.93 688.29L1592.24 688.72L1594.56 689.15L1596.88 689.58L1599.2 690L1601.52 690.43L1603.84 690.85L1606.16 691.27L1608.47 691.69L1610.79 692.1L1613.11 692.52L1615.43 692.93L1617.75 693.34L1620.07 693.74L1622.38 694.15L1624.7 694.55L1627.02 694.95L1629.34 695.35L1631.66 695.75L1633.98 696.15L1636.3 696.54L1638.61 696.93L1640.93 697.32L1643.25 697.71L1645.57 698.09L1647.89 698.48L1650.21 698.86L1652.52 699.24L1654.84 699.62L1657.16 699.99L1659.48 700.37L1661.8 700.74L1664.12 701.11L1666.44 701.48L1668.75 701.84L1671.07 702.21L1673.39 702.57L1675.71 702.93L1678.03 703.29L1680.35 703.65L1682.66 704.01L1684.98 704.36L1687.3 704.71L1689.62 705.06" stroke="#f00" stroke-width="3.0" fill="none" stroke-linecap="square"/>
<path d="M1017.26 479.98V473.71M1026.54 486.14V479.37M1045.09 497.97V490.45M1063.63 509.61V500.83M1096.09 529.1V517.82M1147.1 554.74V542.7M1216.65 586.25V573.96M1318.67 624.93V611.89M1471.68 669.12V657.08M1689.62 709.83V701.43" stroke="#f00" stroke-opacity="0.5" stroke-width="2.8" fill="none"/>
<path d="M1008.26 479.98h18M1008.26 473.71h18M1017.54 486.14h18M1017.54 479.37h18M1036.09 497.97h18M1036.09 490.45h18M1054.63 509.61h18M1054.63 500.83h18M1087.09 529.1h18M1087.09 517.82h18M1138.1 554.74h18M1138.1 542.7h18M1207.65 586.25h18M1207.65 573.96h18M1309.67 624.93h18M1309.67 611.89h18M1462.68 669.12h18M1462.68 657.08h18M1680.62 709.83h18M1680.62 701.43h18" stroke="#f00" stroke-opacity="0.5" stroke-width="2.1" fill="none"/>
<use href="#mu" x="994.08" y="461.56" fill="#f00" stroke="#f00"/><use href="#mu" x="998.72" y="464.68" fill="#f00" stroke="#f00"/><use href="#mu" x="1003.35" y="467.77" fill="#f00" stroke="#f00"/><use href="#mu" x="1007.99" y="470.82" fill="#f00" stroke="#f00"/><use href="#mu" x="1012.63" y="473.85" fill="#f00" stroke="#f00"/><use href="#mu" x="1017.26" y="476.85" fill="#f00" stroke="#f00"/><use href="#mu" x="1026.54" y="482.75" fill="#f00" stroke="#f00"/><use href="#mu" x="1045.09" y="494.21" fill="#f00" stroke="#f00"/><use href="#mu" x="1063.63" y="505.22" fill="#f00" stroke="#f00"/><use href="#mu" x="1096.09" y="523.46" fill="#f00" stroke="#f00"/><use href="#mu" x="1147.1" y="548.72" fill="#f00" stroke="#f00"/><use href="#mu" x="1216.65" y="580.11" fill="#f00" stroke="#f00"/><use href="#mu" x="1318.67" y="618.41" fill="#f00" stroke="#f00"/><use href="#mu" x="1471.68" y="663.1" fill="#f00" stroke="#f00"/><use href="#mu" x="1689.62" y="705.63" fill="#f00" stroke="#f00"/>
<path d="M994.08 461.56L996.4 462.09L998.72 462.61L1001.04 463.13L1003.35 463.66L1005.67 464.18L1007.99 464.7L1010.31 465.22L1012.63 465.74L1014.95 466.26L1017.26 466.78L1019.58 467.29L1021.9 467.81L1024.22 468.32L1026.54 468.84L1028.86 469.35L1031.18 469.86L1033.49 470.37L1035.81 470.88L1038.13 471.39L1040.45 471.9L1042.77 472.41L1045.09 472.92L1047.4 473.43L1049.72 473.93L1052.04 474.44L1054.36 474.94L1056.68 475.44L1059 475.94L1061.32 476.45L1063.63 476.95L1065.95 477.45L1068.27 477.95L1070.59 478.44L1072.91 478.94L1075.23 479.44L1077.54 479.93L1079.86 480.43L1082.18 480.92L1084.5 481.41L1086.82 481.91L1089.14 482.4L1091.46 482.89L1093.77 483.38L1096.09 483.87L1098.41 484.35L1100.73 484.84L1103.05 485.33L1105.37 485.81L1107.68 486.3L1110 486.78L1112.32 487.27L1114.64 487.75L1116.96 488.23L1119.28 488.71L1121.6 489.19L1123.91 489.67L1126.23 490.15L1128.55 490.63L1130.87 491.1L1133.19 491.58L1135.51 492.05L1137.82 492.53L1140.14 493L1142.46 493.47L1144.78 493.95L1147.1 494.42L1149.42 494.89L1151.74 495.36L1154.05 495.83L1156.37 496.29L1158.69 496.76L1161.01 497.23L1163.33 497.69L1165.65 498.16L1167.96 498.62L1170.28 499.09L1172.6 499.55L1174.92 500.01L1177.24 500.47L1179.56 500.93L1181.88 501.39L1184.19 501.85L1186.51 502.31L1188.83 502.76L1191.15 503.22L1193.47 503.68L1195.79 504.13L1198.11 504.59L1200.42 505.04L1202.74 505.49L1205.06 505.94L1207.38 506.39L1209.7 506.84L1212.02 507.29L1214.33 507.74L1216.65 508.19L1218.97 508.64L1221.29 509.08L1223.61 509.53L1225.93 509.98L1228.25 510.42L1230.56 510.86L1232.88 511.31L1235.2 511.75L1237.52 512.19L1239.84 512.63L1242.16 513.07L1244.47 513.51L1246.79 513.95L1249.11 514.39L1251.43 514.82L1253.75 515.26L1256.07 515.69L1258.39 516.13L1260.7 516.56L1263.02 517L1265.34 517.43L1267.66 517.86L1269.98 518.29L1272.3 518.72L1274.61 519.15L1276.93 519.58L1279.25 520.01L1281.57 520.44L1283.89 520.86L1286.21 521.29L1288.53 521.71L1290.84 522.14L1293.16 522.56L1295.48 522.99L1297.8 523.41L1300.12 523.83L1302.44 524.25L1304.75 524.67L1307.07 525.09L1309.39 525.51L1311.71 525.93L1314.03 526.35L1316.35 526.76L1318.67 527.18L1320.98 527.59L1323.3 528.01L1325.62 528.42L1327.94 528.84L1330.26 529.25L1332.58 529.66L1334.89 530.07L1337.21 530.48L1339.53 530.89L1341.85 531.3L1344.17 531.71L1346.49 532.12L1348.81 532.53L1351.12 532.93L1353.44 533.34L1355.76 533.74L1358.08 534.15L1360.4 534.55L1362.72 534.95L1365.03 535.36L1367.35 535.76L1369.67 536.16L1371.99 536.56L1374.31 536.96L1376.63 537.36L1378.95 537.76L1381.26 538.15L1383.58 538.55L1385.9 538.95L1388.22 539.34L1390.54 539.74L1392.86 540.13L1395.17 540.53L1397.49 540.92L1399.81 541.31L1402.13 541.7L1404.45 542.1L1406.77 542.49L1409.09 542.88L1411.4 543.26L1413.72 543.65L1416.04 544.04L1418.36 544.43L1420.68 544.82L1423 545.2L1425.31 545.59L1427.63 545.97L1429.95 546.35L1432.27 546.74L1434.59 547.12L1436.91 547.5L1439.23 547.88L1441.54 548.26L1443.86 548.64L1446.18 549.02L1448.5 549.4L1450.82 549.78L1453.14 550.16L1455.45 550.54L1457.77 550.91L1460.09 551.29L1462.41 551.66L1464.73 552.04L1467.05 552.41L1469.37 552.78L1471.68 553.16L1474 553.53L1476.32 553.9L1478.64 554.27L1480.96 554.64L1483.28 555.01L1485.59 555.38L1487.91 555.75L1490.23 556.11L1492.55 556.48L1494.87 556.85L1497.19 557.21L1499.51 557.58L1501.82 557.94L1504.14 558.31L1506.46 558.67L1508.78 559.03L1511.1 559.4L1513.42 559.76L1515.73 560.12L1518.05 560.48L1520.37 560.84L1522.69 561.2L1525.01 561.55L1527.33 561.91L1529.65 562.27L1531.96 562.63L1534.28 562.98L1536.6 563.34L1538.92 563.69L1541.24 564.05L1543.56 564.4L1545.88 564.75L1548.19 565.11L1550.51 565.46L1552.83 565.81L1555.15 566.16L1557.47 566.51L1559.79 566.86L1562.1 567.21L1564.42 567.56L1566.74 567.9L1569.06 568.25L1571.38 568.6L1573.7 568.94L1576.02 569.29L1578.33 569.63L1580.65 569.98L1582.97 570.32L1585.29 570.67L1587.61 571.01L1589.93 571.35L1592.24 571.69L1594.56 572.03L1596.88 572.37L1599.2 572.71L1601.52 573.05L1603.84 573.39L1606.16 573.73L1608.47 574.07L1610.79 574.4L1613.11 574.74L1615.43 575.07L1617.75 575.41L1620.07 575.74L1622.38 576.08L1624.7 576.41L1627.02 576.74L1629.34 577.08L1631.66 577.41L1633.98 577.74L1636.3 578.07L1638.61 578.4L1640.93 578.73L1643.25 579.06L1645.57 579.39L1647.89 579.72L1650.21 580.04L1652.52 580.37L1654.84 580.7L1657.16 581.02L1659.48 581.35L1661.8 581.67L1664.12 582L1666.44 582.32L1668.75 582.64L1671.07 582.97L1673.39 583.29L1675.71 583.61L1678.03 583.93L1680.35 584.25L1682.66 584.57L1684.98 584.89L1687.3 585.21L1689.62 585.53" stroke="#bf00bf" stroke-width="3.0" fill="none" stroke-linecap="square"/>
<use href="#mo" x="994.08" y="461.56" fill="#bf00bf" stroke="#bf00bf"/><use href="#mo" x="998.72" y="462.61" fill="#bf00bf" stroke="#bf00bf"/><use href="#mo" x="1003.35" y="463.66" fill="#bf00bf" stroke="#bf00bf"/><use href="#mo" x="1007.99" y="464.7" fill="#bf00bf" stroke="#bf00bf"/><use href="#mo" x="1012.63" y="465.74" fill="#bf00bf" stroke="#bf00bf"/><use href="#mo" x="1017.26" y="466.78" fill="#bf00bf" stroke="#bf00bf"/><use href="#mo" x="1026.54" y="468.84" fill="#bf00bf" stroke="#bf00bf"/><use href="#mo" x="1045.09" y="472.92" fill="#bf00bf" stroke="#bf00bf"/><use href="#mo" x="1063.63" y="476.95" fill="#bf00bf" stroke="#bf00bf"/><use href="#mo" x="1096.09" y="483.87" fill="#bf00bf" stroke="#bf00bf"/><use href="#mo" x="1147.1" y="494.42" fill="#bf00bf" stroke="#bf00bf"/><use href="#mo" x="1216.65" y="508.19" fill="#bf00bf" stroke="#bf00bf"/><use href="#mo" x="1318.67" y="527.18" fill="#bf00bf" stroke="#bf00bf"/><use href="#mo" x="1471.68" y="553.16" fill="#bf00bf" stroke="#bf00bf"/><use href="#mo" x="1689.62" y="585.53" fill="#bf00bf" stroke="#bf00bf"/>
<path d="M994.08 461.56H1689.62" stroke="#000" stroke-width="2.8" stroke-dasharray="5.2 8.7" stroke-dashoffset="4.7" fill="none"/>
<use href="#md" x="994.08" y="461.56" fill="#000" stroke="#000"/><use href="#md" x="998.72" y="461.56" fill="#000" stroke="#000"/><use href="#md" x="1003.35" y="461.56" fill="#000" stroke="#000"/><use href="#md" x="1007.99" y="461.56" fill="#000" stroke="#000"/><use href="#md" x="1012.63" y="461.56" fill="#000" stroke="#000"/><use href="#md" x="1017.26" y="461.56" fill="#000" stroke="#000"/><use href="#md" x="1026.54" y="461.56" fill="#000" stroke="#000"/><use href="#md" x="1045.09" y="461.56" fill="#000" stroke="#000"/><use href="#md" x="1063.63" y="461.56" fill="#000" stroke="#000"/><use href="#md" x="1096.09" y="461.56" fill="#000" stroke="#000"/><use href="#md" x="1147.1" y="461.56" fill="#000" stroke="#000"/><use href="#md" x="1216.65" y="461.56" fill="#000" stroke="#000"/><use href="#md" x="1318.67" y="461.56" fill="#000" stroke="#000"/><use href="#md" x="1471.68" y="461.56" fill="#000" stroke="#000"/><use href="#md" x="1689.62" y="461.56" fill="#000" stroke="#000"/>
<use href="#mu" x="994.08" y="461.56" fill="#00f" stroke="#00f"/><use href="#mu" x="998.72" y="461.56" fill="#00f" stroke="#00f"/><use href="#mu" x="1003.35" y="461.56" fill="#00f" stroke="#00f"/><use href="#mu" x="1007.99" y="461.56" fill="#00f" stroke="#00f"/><use href="#mu" x="1012.63" y="461.56" fill="#00f" stroke="#00f"/><use href="#mu" x="1017.26" y="461.56" fill="#00f" stroke="#00f"/><use href="#mu" x="1026.54" y="461.56" fill="#00f" stroke="#00f"/><use href="#mu" x="1045.09" y="461.56" fill="#00f" stroke="#00f"/><use href="#mu" x="1063.63" y="461.56" fill="#00f" stroke="#00f"/><use href="#mu" x="1096.09" y="461.56" fill="#00f" stroke="#00f"/><use href="#mu" x="1147.1" y="461.56" fill="#00f" stroke="#00f"/><use href="#mu" x="1216.65" y="461.56" fill="#00f" stroke="#00f"/><use href="#mu" x="1318.67" y="461.56" fill="#00f" stroke="#00f"/><use href="#mu" x="1471.68" y="461.56" fill="#00f" stroke="#00f"/><use href="#mu" x="1689.62" y="461.56" fill="#00f" stroke="#00f"/>
<use href="#mo" x="994.08" y="461.56" fill="#00bfbf" stroke="#00bfbf"/><use href="#mo" x="998.72" y="461.56" fill="#00bfbf" stroke="#00bfbf"/><use href="#mo" x="1003.35" y="461.56" fill="#00bfbf" stroke="#00bfbf"/><use href="#mo" x="1007.99" y="461.56" fill="#00bfbf" stroke="#00bfbf"/><use href="#mo" x="1012.63" y="461.56" fill="#00bfbf" stroke="#00bfbf"/><use href="#mo" x="1017.26" y="461.56" fill="#00bfbf" stroke="#00bfbf"/><use href="#mo" x="1026.54" y="461.56" fill="#00bfbf" stroke="#00bfbf"/><use href="#mo" x="1045.09" y="461.56" fill="#00bfbf" stroke="#00bfbf"/><use href="#mo" x="1063.63" y="461.56" fill="#00bfbf" stroke="#00bfbf"/><use href="#mo" x="1096.09" y="461.56" fill="#00bfbf" stroke="#00bfbf"/><use href="#mo" x="1147.1" y="461.56" fill="#00bfbf" stroke="#00bfbf"/><use href="#mo" x="1216.65" y="461.56" fill="#00bfbf" stroke="#00bfbf"/><use href="#mo" x="1318.67" y="461.56" fill="#00bfbf" stroke="#00bfbf"/><use href="#mo" x="1471.68" y="461.56" fill="#00bfbf" stroke="#00bfbf"/><use href="#mo" x="1689.62" y="461.56" fill="#00bfbf" stroke="#00bfbf"/>
<path d="M994.08 461.56H1689.62" stroke="#808080" stroke-width="2.8" stroke-dasharray="9.7 4.2" fill="none"/>
<use href="#md" x="994.08" y="461.56" fill="#808080" stroke="#808080"/><use href="#md" x="998.72" y="461.56" fill="#808080" stroke="#808080"/><use href="#md" x="1003.35" y="461.56" fill="#808080" stroke="#808080"/><use href="#md" x="1007.99" y="461.56" fill="#808080" stroke="#808080"/><use href="#md" x="1012.63" y="461.56" fill="#808080" stroke="#808080"/><use href="#md" x="1017.26" y="461.56" fill="#808080" stroke="#808080"/><use href="#md" x="1026.54" y="461.56" fill="#808080" stroke="#808080"/><use href="#md" x="1045.09" y="461.56" fill="#808080" stroke="#808080"/><use href="#md" x="1063.63" y="461.56" fill="#808080" stroke="#808080"/><use href="#md" x="1096.09" y="461.56" fill="#808080" stroke="#808080"/><use href="#md" x="1147.1" y="461.56" fill="#808080" stroke="#808080"/><use href="#md" x="1216.65" y="461.56" fill="#808080" stroke="#808080"/><use href="#md" x="1318.67" y="461.56" fill="#808080" stroke="#808080"/><use href="#md" x="1471.68" y="461.56" fill="#808080" stroke="#808080"/><use href="#md" x="1689.62" y="461.56" fill="#808080" stroke="#808080"/>
</g>
<path d="M994.08 775v6.2M1063.63 775v6.2M1133.19 775v6.2M1202.74 775v6.2M1272.3 775v6.2M1341.85 775v6.2M1411.4 775v6.2M1480.96 775v6.2M1550.51 775v6.2M1620.07 775v6.2M1689.62 775v6.2M959.3 775h-6.2M959.3 712.31h-6.2M959.3 649.62h-6.2M959.3 586.94h-6.2M959.3 524.25h-6.2M959.3 461.56h-6.2" stroke="#000" stroke-width="1.5" fill="none"/>
<rect x="959.3" y="449" width="765.1" height="326" fill="none" stroke="#000" stroke-width="1.8" stroke-linejoin="miter"/>
<text transform="translate(994.08 806.2) scale(1 1.035)" text-anchor="middle">0</text>
<text transform="translate(1063.63 806.2) scale(1 1.035)" text-anchor="middle">15</text>
<text transform="translate(1133.19 806.2) scale(1 1.035)" text-anchor="middle">30</text>
<text transform="translate(1202.74 806.2) scale(1 1.035)" text-anchor="middle">45</text>
<text transform="translate(1272.3 806.2) scale(1 1.035)" text-anchor="middle">60</text>
<text transform="translate(1341.85 806.2) scale(1 1.035)" text-anchor="middle">75</text>
<text transform="translate(1411.4 806.2) scale(1 1.035)" text-anchor="middle">90</text>
<text transform="translate(1480.96 806.2) scale(1 1.035)" text-anchor="middle">105</text>
<text transform="translate(1550.51 806.2) scale(1 1.035)" text-anchor="middle">120</text>
<text transform="translate(1620.07 806.2) scale(1 1.035)" text-anchor="middle">135</text>
<text transform="translate(1689.62 806.2) scale(1 1.035)" text-anchor="middle">150</text>
<text transform="translate(947.2 784.5) scale(1 1.035)" text-anchor="end">0.5</text>
<text transform="translate(947.2 721.81) scale(1 1.035)" text-anchor="end">0.6</text>
<text transform="translate(947.2 659.12) scale(1 1.035)" text-anchor="end">0.7</text>
<text transform="translate(947.2 596.44) scale(1 1.035)" text-anchor="end">0.8</text>
<text transform="translate(947.2 533.75) scale(1 1.035)" text-anchor="end">0.9</text>
<text transform="translate(947.2 471.06) scale(1 1.035)" text-anchor="end">1.0</text>
<rect x="971.5" y="633" width="293.1" height="129.4" rx="4.5" ry="4.5" fill="#fff" fill-opacity="0.8" stroke="#ccc" stroke-opacity="0.8" stroke-width="1.94"/>
<use href="#mu" x="1005.6" y="655.3" fill="#f00" stroke="#f00"/>
<use href="#mo" x="1005.6" y="695.5" fill="#bf00bf" stroke="#bf00bf"/>
<use href="#md" x="1005.6" y="734.1" fill="#000" stroke="#000"/>
<use href="#mu" x="1166.9" y="655.3" fill="#00f" stroke="#00f"/>
<use href="#mo" x="1166.9" y="695.5" fill="#00bfbf" stroke="#00bfbf"/>
<use href="#md" x="1166.9" y="734.1" fill="#808080" stroke="#808080"/>
<text transform="translate(1049.4 662.5) scale(1 1.0)" font-size="25.5" font-style="italic">ε</text><text transform="translate(1064.03 652.9) scale(1 1.0)" font-size="17.47" font-style="italic">c</text><text transform="translate(1063.03 668.6) scale(1 0.98)" font-size="17.47">rb</text>
<text transform="translate(1049.4 702.7) scale(1 1.0)" font-size="25.5" font-style="italic">ε</text><text transform="translate(1064.03 693.1) scale(1 1.0)" font-size="17.47" font-style="italic">c</text><text transform="translate(1063.03 708.8) scale(1 0.98)" font-size="17.47">del</text>
<text transform="translate(1049.4 742.9) scale(1 1.0)" font-size="25.5" font-style="italic">ε</text><text transform="translate(1064.03 733.3) scale(1 1.0)" font-size="17.47" font-style="italic">c</text><text transform="translate(1063.03 749) scale(1 0.98)" font-size="17.47">rep</text>
<text transform="translate(1211.3 662.5) scale(1 1.0)" font-size="25.5" font-style="italic">ε</text><text transform="translate(1225.93 652.9) scale(1 1.0)" font-size="17.47" font-style="italic">a</text><text transform="translate(1224.93 668.6) scale(1 0.98)" font-size="17.47">rb</text>
<text transform="translate(1211.3 702.7) scale(1 1.0)" font-size="25.5" font-style="italic">ε</text><text transform="translate(1225.93 693.1) scale(1 1.0)" font-size="17.47" font-style="italic">a</text><text transform="translate(1224.93 708.8) scale(1 0.98)" font-size="17.47">del</text>
<text transform="translate(1211.3 742.9) scale(1 1.0)" font-size="25.5" font-style="italic">ε</text><text transform="translate(1225.93 733.3) scale(1 1.0)" font-size="17.47" font-style="italic">a</text><text transform="translate(1224.93 749) scale(1 0.98)" font-size="17.47">rep</text>
<text transform="translate(1341.85 836.9) scale(1 1.035)" text-anchor="middle">Number of Mid-Circuit Measurements</text>
<text transform="translate(896.4 612.4) rotate(-90) scale(1 1.035)" text-anchor="middle">Ground State Probability</text>
</svg>
</body></html>
